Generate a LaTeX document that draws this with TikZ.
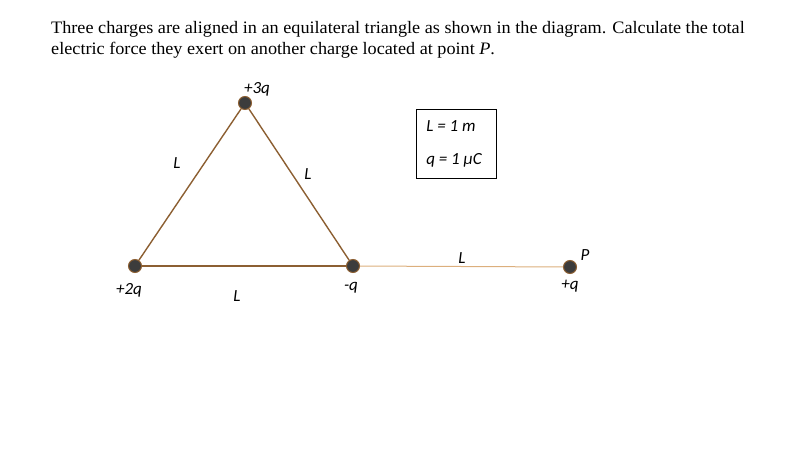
\documentclass[tikz,border=0pt]{standalone}
\usepackage{fontspec}
\setmainfont{Liberation Serif}
\newfontfamily\labelfont{Carlito}
\usetikzlibrary{positioning}
\definecolor{rodbrown}{RGB}{140,95,50}
\definecolor{rodtan}{RGB}{220,175,125}
\definecolor{chargegray}{RGB}{60,60,60}
\tikzstyle{charge}=[circle,draw=rodbrown,fill=chargegray,line width=1pt,inner sep=0mm,minimum size=13pt]
\tikzstyle{tag}=[font=\labelfont\itshape\fontsize{17}{19}\selectfont,inner sep=1pt]
\tikzstyle{side}=[draw=rodbrown,line width=1.4pt]
\tikzstyle{title}=[anchor=base west,inner sep=0pt,xscale=1.04,font=\fontsize{17.5}{20}\selectfont]
\tikzset{every picture/.style={
    x=1pt,y=-1pt
  }
}
\begin{document}
\begin{tikzpicture}
      \useasboundingbox (0,0) rectangle (801,463);
      \node[title] at (51,34) (t1) {Three charges are aligned in an equilateral triangle as shown in the diagram. Calculate the total};
      \node[title] at (51,54) (t2) {electric force they exert on another charge located at point \textit{P}.};
      \node[charge] at (245,103) (c3) {};
      \node[charge] at (135,266) (c2) {};
      \node[charge] at (353,266) (c1) {};
      \node[charge] at (570,267) (cp) {};
      \draw[side] (c2)--(c3);
      \draw[side] (c3)--(c1);
      \draw[side] (c2)--(c1);
      \draw[draw=rodtan,line width=1pt] (c1)--(cp);
      \node[tag] at (257,89) (l3) {+3q};
      \node[tag] at (129,290) (l2) {+2q};
      \node[tag] at (351,288) (l1) {-q};
      \node[tag] at (570,286) (lp) {+q};
      \node[tag] at (585,255) (pp) {P};
      \node[tag] at (177,163) (s1) {L};
      \node[tag] at (308,174) (s2) {L};
      \node[tag] at (237,296) (s3) {L};
      \node[tag] at (462,258) (s4) {L};
      \node[draw=black,line width=0.8pt,minimum width=80pt,minimum height=69pt] at (456,143.5) (box) {};
      \node[tag] at (451,126) (vl) {L = 1 m};
      \node[tag] at (454,160) (vq) {q = 1 μC};
    \end{tikzpicture}
\end{document}
